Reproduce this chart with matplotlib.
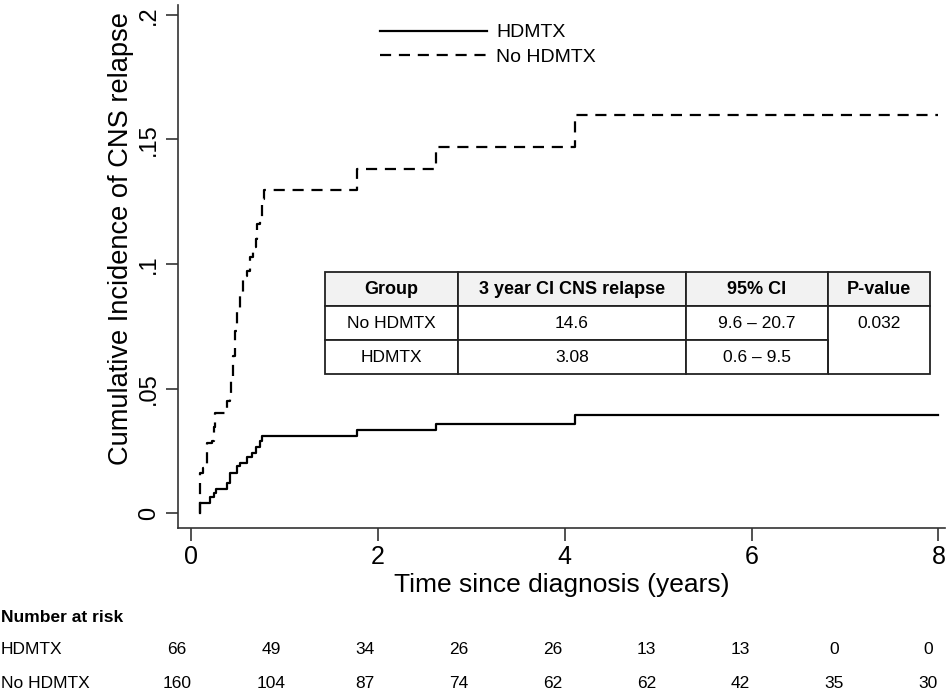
import matplotlib.pyplot as plt
from matplotlib.lines import Line2D
from matplotlib.transforms import blended_transform_factory

plt.rcParams['font.family'] = ['Liberation Sans', 'DejaVu Sans']

# Кумулятивна частота (ступінчасті криві)
hd_time = [0.10, 0.10, 0.20, 0.24, 0.27, 0.38, 0.42, 0.49, 0.52, 0.60, 0.65, 0.70, 0.74, 0.76, 1.78, 2.62, 4.11, 8.00]
hd_ci = [0.0, 0.004, 0.0064, 0.008, 0.0096, 0.012, 0.016, 0.019, 0.020, 0.0225, 0.024, 0.0265, 0.029, 0.031, 0.0335, 0.0357, 0.0395, 0.0395]

no_time = [0.10, 0.10, 0.13, 0.17, 0.22, 0.24, 0.26, 0.38, 0.42, 0.43, 0.45, 0.47, 0.49, 0.52, 0.56, 0.60, 0.63, 0.66,
           0.69, 0.71, 0.74, 0.76, 0.78, 1.78, 2.62, 4.11, 8.00]
no_ci = [0.0, 0.016, 0.018, 0.028, 0.029, 0.0345, 0.040, 0.045, 0.047, 0.055, 0.063, 0.073, 0.0815, 0.088, 0.095, 0.097,
         0.103, 0.107, 0.110, 0.116, 0.119, 0.126, 0.1297, 0.138, 0.147, 0.160, 0.160]

# Таблиця з результатами
col_labels = ['Group', '3 year CI CNS relapse', '95% CI', 'P-value']
rows = [['No HDMTX', '14.6', '9.6 \u2013 20.7', '0.032'],
        ['HDMTX', '3.08', '0.6 \u2013 9.5', '']]

# Кількість пацієнтів під ризиком
risk_years = [0, 1, 2, 3, 4, 5, 6, 7, 8]
risk_hd = [66, 49, 34, 26, 26, 13, 13, 0, 0]
risk_no = [160, 104, 87, 74, 62, 62, 42, 35, 30]

fig = plt.figure(figsize=(9.47, 6.9), dpi=100)
ax = fig.add_axes([178 / 947, 1 - 528 / 690, 767 / 947, 523 / 690])

ax.step(hd_time, hd_ci, where='post', color='black', lw=1.6)
ax.step(no_time, no_ci, where='post', color='black', lw=1.6, linestyle=(0, (5, 3.5)))

ax.set_xlim(-0.14, 8.07)
ax.set_ylim(-0.006, 0.204)
ax.set_xticks([0, 2, 4, 6, 8])
ax.set_yticks([0, 0.05, 0.1, 0.15, 0.2])
ax.set_yticklabels(['0', '.05', '.1', '.15', '.2'], rotation=90, va='center')
ax.tick_params(labelsize=18, length=9, width=1.2, color='#333333', pad=3)
ax.tick_params(axis='y', labelsize=17, pad=4)
ax.spines['top'].set_visible(False)
ax.spines['right'].set_visible(False)
for s in ['left', 'bottom']:
    ax.spines[s].set_linewidth(1.2)
    ax.spines[s].set_color('#333333')
ax.set_xlabel('Time since diagnosis (years)', fontsize=19, labelpad=3)
ax.set_ylabel('Cumulative Incidence of CNS relapse', fontsize=19.6, labelpad=3)
ax.yaxis.label.set_y(0.554)

# Легенда
handles = [Line2D([], [], color='black', lw=1.6),
           Line2D([], [], color='black', lw=1.6, linestyle=(0, (5, 3.5)))]
ax.legend(handles, ['HDMTX', 'No HDMTX'], loc='upper left', bbox_to_anchor=(370 / 947, 1 - 14 / 690),
          bbox_transform=fig.transFigure, frameon=False, fontsize=14, handlelength=5.5,
          handletextpad=0.5, labelspacing=0.35, borderpad=0)

# Таблиця
tbl = ax.table(cellText=rows, colLabels=col_labels, cellLoc='center',
               bbox=[(325 - 178) / 767, (528 - 374) / 523, 605 / 767, 102 / 523],
               colWidths=[133, 228, 142, 102])
tbl.auto_set_font_size(False)
tbl.set_fontsize(12.5)
for (r, c), cell in tbl.get_celld().items():
    cell.set_linewidth(1.3)
    cell.set_edgecolor('#222222')
    if r == 0:
        cell.set_facecolor('#f2f2f2')
        cell.get_text().set_fontweight('bold')
        cell.get_text().set_fontsize(13)
    if c == 3 and r == 1:
        cell.visible_edges = 'TLR'
    if c == 3 and r == 2:
        cell.visible_edges = 'BLR'

# Таблиця "Number at risk"
fig.text(1 / 947, 1 - 617 / 690, 'Number at risk', fontsize=12.5, fontweight='bold', va='center')
fig.text(1 / 947, 1 - 650 / 690, 'HDMTX', fontsize=12.5, va='center')
fig.text(1 / 947, 1 - 683 / 690, 'No HDMTX', fontsize=12.5, va='center')
trans = blended_transform_factory(ax.transData, fig.transFigure)
for t, a, b in zip(risk_years, risk_hd, risk_no):
    xp = -0.15 + t * 1.005
    ax.text(xp, 1 - 650 / 690, str(a), transform=trans, fontsize=12.5, ha='center', va='center')
    ax.text(xp, 1 - 683 / 690, str(b), transform=trans, fontsize=12.5, ha='center', va='center')

fig.savefig('out.png', dpi=100)
